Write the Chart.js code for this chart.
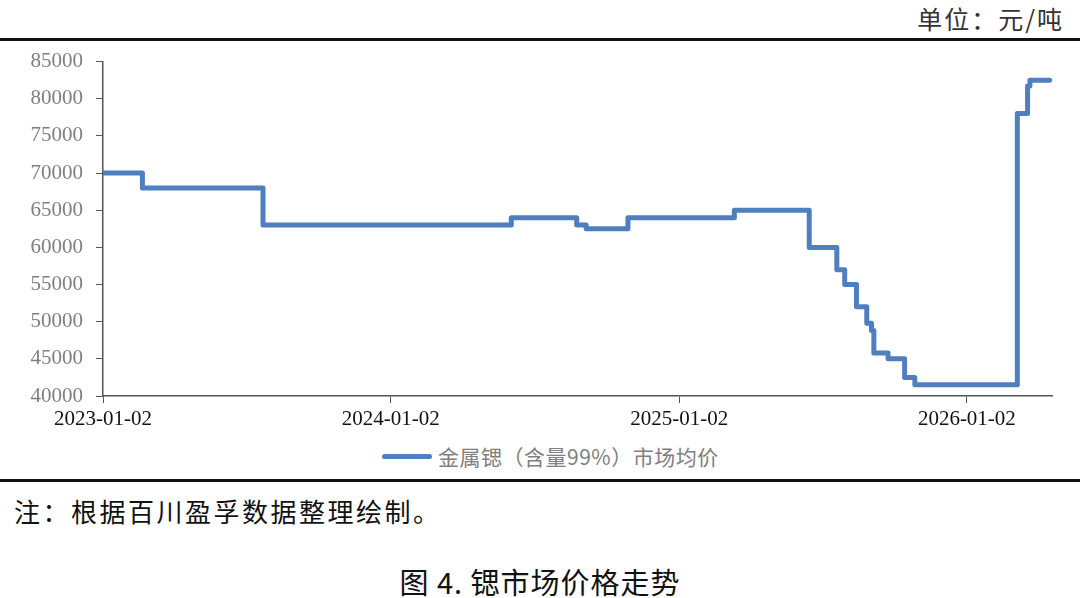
<!DOCTYPE html>
<html>
<head>
<meta charset="utf-8">
<script src="https://cdn.jsdelivr.net/npm/chart.js@4/dist/chart.umd.min.js"></script>
<style>
    body { margin: 0; width: 1080px; height: 598px; background: #fff; position: relative; overflow: hidden; font-family: "Noto Sans CJK SC", sans-serif; }
    .unit { position: absolute; right: 16px; top: 0px; font-size: 25px; letter-spacing: 2px; color: #333; }
    .rule { position: absolute; left: 0; width: 1080px; height: 3px; background: #111; }
    .note { position: absolute; left: 14px; top: 492px; font-size: 26px; letter-spacing: 2.5px; color: #111; }
    .title { position: absolute; left: 0; width: 1080px; top: 560px; text-align: center; font-size: 29px; letter-spacing: 1px; color: #111; }
    #wrap { position: absolute; left: 0; top: 36px; width: 1080px; height: 400px; }
    .legend { position: absolute; left: 382px; top: 441px; height: 30px; display: flex; align-items: center; font-size: 21px; letter-spacing: 0.5px; color: #808080; }
    .legend .swatch { width: 50px; height: 5px; border-radius: 3px; margin-right: 6px; }
</style>
</head>
<body>
<div class="unit">单位：元/吨</div>
<div class="rule" style="top:38px"></div>
<div id="wrap"><canvas id="priceChart"></canvas></div>
<div class="legend" id="legend"></div>
<div class="rule" style="top:479px"></div>
<div class="note">注：根据百川盈孚数据整理绘制。</div>
<div class="title">图 4. 锶市场价格走势</div>

<script>
// Data: price changes (step takes effect on each date)
const seriesName = '金属锶（含量99%）市场均价';
const startDate = '2023-01-02';
const endDate = '2026-04-20';
const changeDates = ['2023-01-02', '2023-02-21', '2023-07-24', '2024-06-03', '2024-08-25', '2024-09-06',
    '2024-10-29', '2025-03-13', '2025-06-16', '2025-07-21', '2025-07-31', '2025-08-15', '2025-08-28',
    '2025-09-03', '2025-09-06', '2025-09-24', '2025-10-15', '2025-10-28', '2026-03-07', '2026-03-20',
    '2026-03-23', '2026-04-17'];
const prices = [70000, 68000, 63000, 64000, 63000, 62500,
    64000, 65000, 60000, 57000, 55000, 52000, 49800,
    48800, 45800, 45000, 42500, 41500, 78000, 81700,
    82500, 82500];
const tickDates = ['2023-01-02', '2024-01-02', '2025-01-02', '2026-01-02'];
const yMin = 40000, yMax = 85000, yStep = 5000;

// days since start, so a plain linear axis can be used (no date adapter)
const dayOf = s => (Date.parse(s) - Date.parse(startDate)) / 86400000;

const points = changeDates.map((d, i) => ({ x: dayOf(d), y: prices[i] }));
const tickValues = tickDates.map(dayOf);

const lineColor = '#4f7fbe';

document.addEventListener('DOMContentLoaded', () => {
    const ctx = document.getElementById('priceChart').getContext('2d');
    const chart = new Chart(ctx, {
        type: 'line',
        data: {
            datasets: [{
                label: seriesName,
                data: points,
                stepped: true,
                borderColor: lineColor,
                backgroundColor: lineColor,
                borderWidth: 5,
                borderJoinStyle: 'round',
                borderCapStyle: 'round',
                pointRadius: 0,
                fill: false
            }]
        },
        options: {
            responsive: true,
            maintainAspectRatio: false,
            animation: false,
            layout: { padding: { top: 8, right: 28, bottom: 0, left: 0 } },
            plugins: {
                tooltip: { enabled: false },
                legend: { display: false }
            },
            scales: {
                x: {
                    type: 'linear',
                    min: 0,
                    max: dayOf(endDate),
                    afterBuildTicks: scale => { scale.ticks = tickValues.map(v => ({ value: v })); },
                    afterFit: scale => { scale.height = 40; },
                    grid: { drawOnChartArea: false, drawTicks: true, tickLength: 7, color: '#555' },
                    border: { color: '#555', width: 1.5 },
                    ticks: {
                        autoSkip: false,
                        maxRotation: 0,
                        padding: 4,
                        color: '#111',
                        font: { family: '"Liberation Serif", serif', size: 21 },
                        callback: v => tickDates[tickValues.indexOf(v)] || ''
                    }
                },
                y: {
                    min: yMin,
                    max: yMax,
                    afterFit: scale => { scale.width = 103; },
                    grid: { drawOnChartArea: false, drawTicks: true, tickLength: 7, color: '#555' },
                    border: { color: '#555', width: 1.5 },
                    ticks: {
                        stepSize: yStep,
                        padding: 13,
                        color: '#7f7f7f',
                        font: { family: '"Liberation Serif", serif', size: 21 },
                        callback: v => String(v)
                    }
                }
            }
        }
    });

    // simple legend built from the dataset
    const legend = document.getElementById('legend');
    chart.data.datasets.forEach(ds => {
        legend.innerHTML += `<span class="swatch" style="background:${ds.borderColor}"></span><span>${ds.label}</span>`;
    });
});
</script>
</body>
</html>
